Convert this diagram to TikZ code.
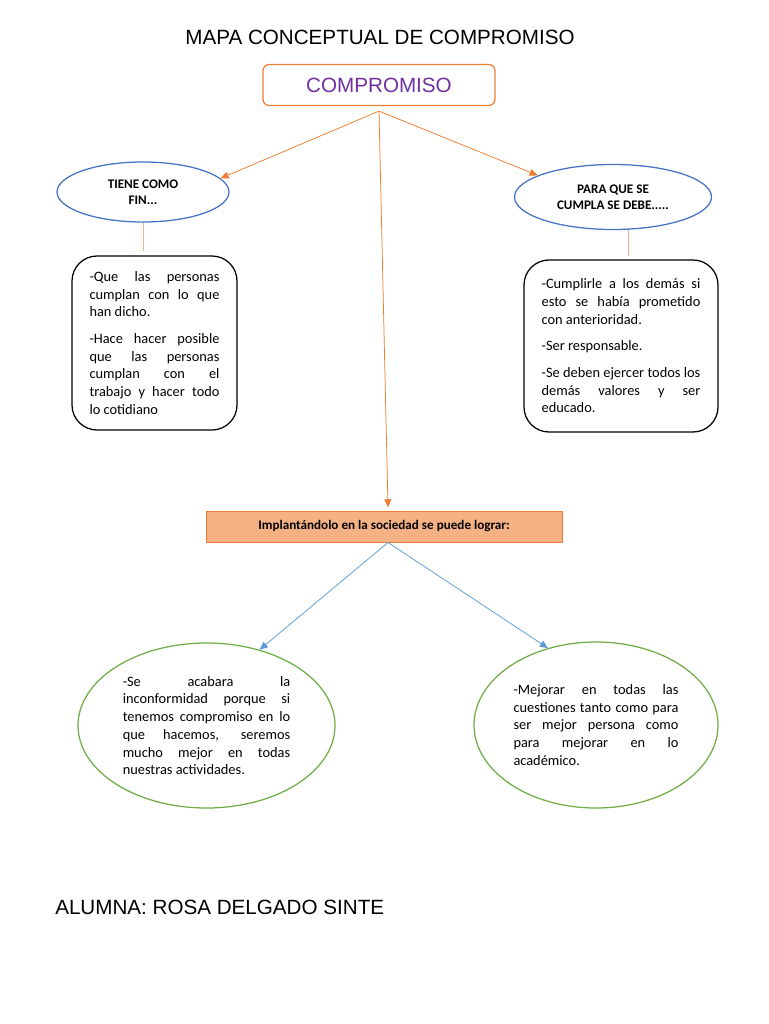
\documentclass[tikz,border=0pt]{standalone}
\usepackage{fontspec}
\setmainfont{Carlito}
\newfontfamily\arial{Liberation Sans}
\usetikzlibrary{arrows.meta,shapes.geometric}

\definecolor{naranja}{HTML}{ED7D31}
\definecolor{morado}{HTML}{7030A0}
\definecolor{azul}{HTML}{4472C4}
\definecolor{celeste}{HTML}{5B9BD5}
\definecolor{verde}{HTML}{70AD47}
\definecolor{salmon}{HTML}{F4B183}

\hyphenpenalty=10000
\exhyphenpenalty=10000

\begin{document}
\begin{tikzpicture}[x=0.8pt,y=-0.8pt,
	flecha/.style={naranja,line width=0.6pt,-{Triangle[length=6.5pt,width=5.5pt]}},
	flechaazul/.style={celeste,line width=0.6pt,-{Triangle[length=6.5pt,width=5.5pt]}},
	enlace/.style={salmon,line width=0.8pt},
	pregunta/.style={ellipse,draw=azul,line width=1pt,align=center,inner sep=0pt,font=\bfseries\fontsize{10.5}{13}\selectfont},
	caja/.style={draw,line width=1pt,rounded corners=20pt,align=justify,inner sep=0pt,font=\fontsize{11.5}{14.2}\selectfont},
	globo/.style={ellipse,draw=verde,line width=1pt,align=justify,inner sep=0pt,font=\fontsize{11.5}{14.2}\selectfont}]
	\useasboundingbox (0,0) rectangle (768,1024);

	\node (titulo) at (380,37) [font=\arial\fontsize{16.5}{20}\selectfont] {MAPA CONCEPTUAL DE COMPROMISO};
	\node (compromiso) at (379,85) [draw=naranja,line width=1pt,rounded corners=5pt,minimum width=185.6pt,minimum height=32.8pt,text=morado,font=\arial\fontsize{16.5}{20}\selectfont] {COMPROMISO};

	\node (fin) at (143,192) [pregunta,minimum width=137.6pt,minimum height=48pt] {TIENE COMO\\FIN...};
	\node (debe) at (613,197) [pregunta,minimum width=157.6pt,minimum height=52pt] {PARA QUE SE\\CUMPLA SE DEBE.....};

	\node (que) at (154.5,343) [caja,text width=104pt,minimum width=132pt,minimum height=139.2pt] {-Que las personas\linebreak cumplan con lo que\linebreak han dicho.\\[7pt]-Hace hacer posible\linebreak que las personas\linebreak cumplan con el\linebreak trabajo y hacer todo\linebreak lo cotidiano};
	\node (cumplir) at (621,346) [caja,text width=127pt,minimum width=155.2pt,minimum height=137.6pt] {-Cumplirle a los demás si\linebreak esto se había prometido\linebreak con anterioridad.\\[7pt]-Ser responsable.\\[7pt]-Se deben ejercer todos los\linebreak demás valores y ser\linebreak educado.};

	\node (logro) at (384,526.5) [draw=naranja,fill=salmon,line width=0.8pt,minimum width=284.8pt,minimum height=24.8pt,font=\bfseries\fontsize{10.5}{13}\selectfont] {Implantándolo en la sociedad se puede lograr:};

	\node (acabar) at (206.5,725.5) [globo,text width=134pt,minimum width=205.6pt,minimum height=132pt] {-Se acabara la\linebreak inconformidad porque si\linebreak tenemos compromiso en lo\linebreak que hacemos, seremos\linebreak mucho mejor en todas\linebreak nuestras actividades.};
	\node (mejorar) at (596,725) [globo,text width=132pt,minimum width=195.2pt,minimum height=132.8pt] {-Mejorar en todas las\linebreak cuestiones tanto como para\linebreak ser mejor persona como\linebreak para mejorar en lo\linebreak académico.};

	\node (alumna) at (55,907) [anchor=west,inner sep=0pt,font=\arial\fontsize{16.5}{20}\selectfont] {ALUMNA: ROSA DELGADO SINTE};

	\coordinate (salida) at ([yshift=-4pt]compromiso.south);
	\coordinate (llegada) at ([xshift=3.2pt,yshift=2.5pt]logro.north);
	\coordinate (reparto) at ([xshift=3.2pt]logro.south);
	\draw[flecha] (salida) -- (fin.10);
	\draw[flecha] (salida) -- (debe.164);
	\draw[flecha] (salida) -- (llegada);

	\draw[enlace] (fin.south) -- ++(0,28);
	\draw[enlace] ([xshift=12pt]debe.south) -- ++(0,26);

	\draw[flechaazul] (reparto) -- (acabar.55);
	\draw[flechaazul] (reparto) -- (mejorar.122);
\end{tikzpicture}
\end{document}
